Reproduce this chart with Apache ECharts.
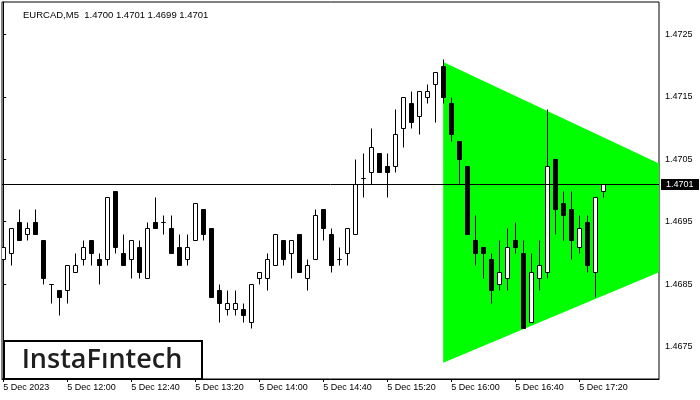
<!DOCTYPE html>
<html>
<head>
<meta charset="utf-8">
<script src="https://cdn.jsdelivr.net/npm/echarts@6/dist/echarts.min.js"></script>
<style>html,body{margin:0;padding:0;background:#fff;}#c{width:700px;height:400px;}</style>
</head>
<body>
<div id="c"></div>
<script>
// EURCAD M5 bars, 5 Dec 2023 11:20 .. 17:35 (bar index = position)
const opens  = [1.4689,1.4690,1.4695,1.4693,1.4695,1.4692,1.4685,1.4684,1.4684,1.4687,
                1.4689,1.4692,1.4689,1.4689,1.4700,1.4690,1.4689,1.4691,1.4686,1.4695,
                1.4695,1.4694,1.4691,1.4689,1.4692,1.4697,1.4694,1.4684,1.4681,1.4681,
                1.4681,1.4679,1.4686,1.4686,1.4688,1.4692,1.4690,1.4693,1.4686,1.4689,
                1.4697,1.4693,1.4689,1.4690,1.4693,1.4702,1.4703,1.4706,1.4704,1.4704,
                1.4710,1.4714,1.4712,1.4715,1.4717,1.4720,1.4714,1.4708,1.4704,1.4692,
                1.4691,1.4689,1.4685,1.4686,1.4692,1.4690,1.4679,1.4686,1.4687,1.4705,
                1.4698,1.4697,1.4691,1.4695,1.4687,1.4700];
const highs  = [1.4691,1.4694,1.4697,1.4695,1.4697,1.4692,1.4685,1.4684,1.4688,1.4690,
                1.4692,1.4692,1.4690,1.4699,1.4700,1.4693,1.4692,1.4692,1.4695,1.4699,
                1.4696,1.4696,1.4693,1.4693,1.4698,1.4697,1.4694,1.4685,1.4684,1.4684,
                1.4682,1.4685,1.4687,1.4690,1.4693,1.4692,1.4692,1.4693,1.4689,1.4697,
                1.4697,1.4694,1.4691,1.4694,1.4705,1.4706,1.4710,1.4706,1.4706,1.4713,
                1.4715,1.4716,1.4716,1.4717,1.4719,1.4721,1.4715,1.4708,1.4704,1.4696,
                1.4691,1.4690,1.4692,1.4694,1.4695,1.4692,1.4690,1.4692,1.4713,1.4705,
                1.4700,1.4700,1.4696,1.4696,1.4699,1.4701];
const lows   = [1.4688,1.4688,1.4692,1.4692,1.4693,1.4685,1.4682,1.4680,1.4682,1.4687,
                1.4688,1.4688,1.4685,1.4688,1.4690,1.4688,1.4686,1.4686,1.4686,1.4694,
                1.4693,1.4690,1.4688,1.4688,1.4692,1.4692,1.4683,1.4679,1.4680,1.4680,
                1.4679,1.4678,1.4685,1.4684,1.4688,1.4688,1.4686,1.4687,1.4684,1.4689,
                1.4692,1.4687,1.4688,1.4688,1.4693,1.4699,1.4701,1.4703,1.4699,1.4703,
                1.4707,1.4710,1.4709,1.4714,1.4711,1.4714,1.4708,1.4701,1.4693,1.4688,
                1.4686,1.4682,1.4684,1.4684,1.4690,1.4678,1.4679,1.4684,1.4686,1.4693,
                1.4692,1.4689,1.4690,1.4687,1.4683,1.4699];
const closes = [1.4691,1.4694,1.4692,1.4694,1.4693,1.4686,1.4685,1.4683,1.4688,1.4688,
                1.4691,1.4690,1.4688,1.4699,1.4691,1.4688,1.4692,1.4687,1.4694,1.4694,
                1.4695,1.4690,1.4688,1.4691,1.4698,1.4693,1.4683,1.4682,1.4682,1.4682,
                1.4680,1.4685,1.4687,1.4689,1.4693,1.4689,1.4692,1.4687,1.4688,1.4696,
                1.4694,1.4688,1.4689,1.4694,1.4701,1.4702,1.4707,1.4703,1.4703,1.4709,
                1.4715,1.4711,1.4716,1.4716,1.4719,1.4715,1.4709,1.4705,1.4693,1.4690,
                1.4690,1.4684,1.4687,1.4691,1.4691,1.4678,1.4687,1.4688,1.4704,1.4697,
                1.4696,1.4692,1.4694,1.4688,1.4699,1.4701];

// x tick positions (bar index) and their labels
const xTickIdx    = [0, 8, 16, 24, 32, 40, 48, 56, 64, 72];
const xTickLabels = ['5 Dec 2023','5 Dec 12:00','5 Dec 12:40','5 Dec 13:20','5 Dec 14:00',
                     '5 Dec 14:40','5 Dec 15:20','5 Dec 16:00','5 Dec 16:40','5 Dec 17:20'];
// y tick labels
const yTicks = [1.4675, 1.4685, 1.4695, 1.4705, 1.4715, 1.4725];

// symmetrical triangle pattern: [startIdx, endIdx]; upper line [start,end]; lower line [start,end]
const triIdx   = [55, 82];
const triUpper = [1.47206, 1.47043];
const triLower = [1.46724, 1.46869];

const symbol = 'EURCAD,M5';
const last = opens.length - 1;
const lastClose = closes[last];

const candleData = opens.map((o, i) => [i, o, highs[i], lows[i], closes[i]]);
const triData = [[triIdx[0], triUpper[0], triIdx[1], triUpper[1], triLower[0], triLower[1]]];

const FONT = 'Liberation Sans';
const chart = echarts.init(document.getElementById('c'), null, {renderer: 'canvas'});
chart.setOption({
  animation: false,
  backgroundColor: '#fff',
  title: {
    text: symbol + '  ' + [opens[last], highs[last], lows[last], closes[last]].map(v => v.toFixed(4)).join(' '),
    left: 18, top: 5,
    textStyle: {fontFamily: FONT, fontSize: 9.5, fontWeight: 'normal', color: '#000'}
  },
  grid: {left: 2, right: 41, top: 2, bottom: 21, show: true, borderColor: '#000', borderWidth: 1, backgroundColor: 'transparent'},
  xAxis: {
    type: 'value', min: -0.15, max: 81.975,
    axisLine: {show: true, lineStyle: {color: '#000', width: 1}},
    axisTick: {show: true, length: 3, lineStyle: {color: '#000'}, customValues: xTickIdx},
    axisLabel: {
      customValues: xTickIdx, align: 'left', margin: 4,
      fontFamily: FONT, fontSize: 9, color: '#000',
      formatter: v => xTickLabels[xTickIdx.indexOf(Math.round(v))] || ''
    },
    splitLine: {show: false}
  },
  yAxis: {
    type: 'value', position: 'right', min: 1.46698, max: 1.47302, scale: true,
    axisLine: {show: true, lineStyle: {color: '#000', width: 1}},
    axisTick: {show: true, length: 3, lineStyle: {color: '#000'}, customValues: yTicks},
    axisLabel: {
      customValues: yTicks, margin: 6,
      fontFamily: FONT, fontSize: 9, color: '#000',
      formatter: v => v.toFixed(4)
    },
    splitLine: {show: false}
  },
  series: [
    {
      type: 'custom', name: 'triangle', clip: true, z: 1,
      data: triData,
      encode: {x: [0, 2], y: [1, 3, 4, 5]},
      renderItem: (params, api) => {
        const a = api.coord([api.value(0), api.value(1)]);
        const b = api.coord([api.value(2), api.value(3)]);
        const c = api.coord([api.value(2), api.value(5)]);
        const d = api.coord([api.value(0), api.value(4)]);
        return {type: 'polygon', shape: {points: [a, b, c, d]}, style: {fill: '#00ff00', stroke: null}};
      }
    },
    {
      type: 'custom', name: 'bars', clip: true, z: 2,
      data: candleData,
      encode: {x: 0, y: [1, 2, 3, 4]},
      renderItem: (params, api) => {
        const i = api.value(0), o = api.value(1), h = api.value(2), l = api.value(3), c = api.value(4);
        const pO = api.coord([i, o]), pC = api.coord([i, c]);
        const pH = api.coord([i, h]), pL = api.coord([i, l]);
        const x = Math.round(pO[0]) + 0.5;
        const top = Math.round(Math.min(pO[1], pC[1])) + 0.5;
        const bot = Math.round(Math.max(pO[1], pC[1])) + 0.5;
        const bull = c >= o;
        return {type: 'group', children: [
          {type: 'line', shape: {x1: x, y1: Math.round(pH[1]) + 0.5, x2: x, y2: Math.round(pL[1]) + 0.5},
           style: {stroke: '#000', lineWidth: 1}},
          {type: 'rect', shape: {x: x - 2, y: top, width: 4, height: bot - top},
           style: {fill: bull ? '#fff' : '#000', stroke: '#000', lineWidth: 1}}
        ]};
      }
    },
    {
      // current price line with its price tag on the right axis
      type: 'custom', name: 'price', clip: false, z: 3,
      data: [[lastClose]],
      encode: {y: 0},
      renderItem: (params, api) => {
        const v = api.value(0);
        const cs = params.coordSys;
        const y = Math.round(api.coord([0, v])[1]) + 0.5;
        const xr = cs.x + cs.width;
        return {type: 'group', children: [
          {type: 'line', shape: {x1: cs.x, y1: y, x2: xr, y2: y}, style: {stroke: '#000', lineWidth: 1}},
          {type: 'rect', shape: {x: xr + 2, y: y - 5.5, width: 38, height: 11}, style: {fill: '#000'}},
          {type: 'text', x: xr + 7, y: y, style: {text: v.toFixed(4), fill: '#fff', fontFamily: FONT,
            fontSize: 9, verticalAlign: 'middle', align: 'left'}}
        ]};
      }
    }
  ],
  graphic: [
    {type: 'rect', left: 3, top: 340, shape: {width: 198, height: 38},
     style: {fill: '#fff', stroke: '#000', lineWidth: 2}, z: 10},
    {type: 'text', x: 102, y: 360, z: 11,
     style: {text: 'InstaF\u0131ntech', fontFamily: 'Open Sans', fontSize: 27, fontWeight: 600,
             fill: '#1e1e1e', align: 'center', verticalAlign: 'middle'}}
  ]
});
</script>
</body>
</html>
